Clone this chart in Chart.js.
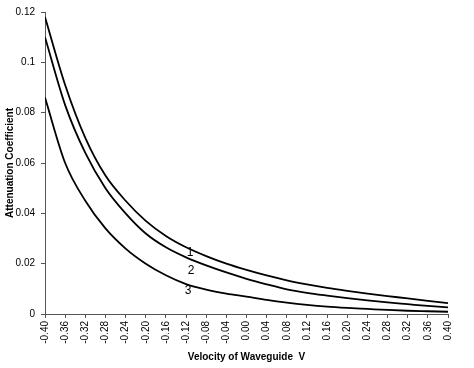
<!DOCTYPE html>
<html>
<head>
<meta charset="utf-8">
<script src="https://cdn.jsdelivr.net/npm/chart.js@4"></script>
<style>
  html, body { margin: 0; padding: 0; background: #fff; }
  #wrap { width: 474px; height: 368px; }
</style>
</head>
<body>
<div id="wrap"><canvas id="attChart" width="474" height="368"></canvas></div>
<script>
// velocity of waveguide V (x axis)
var velocity = [-0.40, -0.36, -0.32, -0.28, -0.24, -0.20, -0.16, -0.12, -0.08, -0.04,
                0.00, 0.04, 0.08, 0.12, 0.16, 0.20, 0.24, 0.28, 0.32, 0.36, 0.40];

// attenuation coefficient, curves 1..3
var curve1 = [0.118, 0.091, 0.070, 0.055, 0.045, 0.037, 0.031, 0.0265, 0.0230, 0.0200,
              0.0175, 0.0153, 0.0134, 0.0118, 0.0104, 0.0092, 0.0081, 0.0071, 0.0062, 0.0052, 0.0043];
var curve2 = [0.110, 0.083, 0.064, 0.050, 0.040, 0.032, 0.0265, 0.0225, 0.0193, 0.0165,
              0.0140, 0.0118, 0.0098, 0.0084, 0.0073, 0.0063, 0.0054, 0.0046, 0.0039, 0.0032, 0.0026];
var curve3 = [0.086, 0.060, 0.045, 0.034, 0.026, 0.0200, 0.0154, 0.0119, 0.0097, 0.0081,
              0.0069, 0.0056, 0.0045, 0.0036, 0.0029, 0.0024, 0.0020, 0.0016, 0.0013, 0.0011, 0.0009];

// curve numbers written next to the lines
var curveNames = ["1", "2", "3"];
var nameV = [-0.112, -0.110, -0.116];
var nameAtt = [0.0245, 0.0174, 0.0091];

function pts(ys) {
  return velocity.map(function (v, i) { return { x: v, y: ys[i] }; });
}

var lineStyle = {
  borderColor: "#000",
  borderWidth: 1.8,
  pointRadius: 0,
  fill: false,
  cubicInterpolationMode: "monotone"
};

var curveLabels = {
  id: "curveLabels",
  afterDatasetsDraw: function (chart) {
    var ctx = chart.ctx, xs = chart.scales.x, ys = chart.scales.y;
    ctx.save();
    ctx.fillStyle = "#000";
    ctx.font = "12px 'Liberation Sans', Arial, sans-serif";
    ctx.textAlign = "center";
    ctx.textBaseline = "middle";
    for (var i = 0; i < curveNames.length; i++) {
      ctx.fillText(curveNames[i], xs.getPixelForValue(nameV[i]), ys.getPixelForValue(nameAtt[i]));
    }
    ctx.restore();
  }
};

Chart.defaults.font.family = "'Liberation Sans', Arial, sans-serif";
Chart.defaults.color = "#000";

new Chart(document.getElementById("attChart"), {
  type: "line",
  data: {
    datasets: [
      Object.assign({ label: "1", data: pts(curve1) }, lineStyle),
      Object.assign({ label: "2", data: pts(curve2) }, lineStyle),
      Object.assign({ label: "3", data: pts(curve3) }, lineStyle)
    ]
  },
  options: {
    responsive: false,
    animation: false,
    layout: { padding: { top: 10, right: 26, bottom: 0, left: 0 } },
    plugins: { legend: { display: false }, tooltip: { enabled: false } },
    scales: {
      x: {
        type: "linear",
        min: -0.4,
        max: 0.4,
        afterFit: function (s) { s.height = 54; },
        afterBuildTicks: function (s) {
          s.ticks = velocity.map(function (v) { return { value: v }; });
        },
        ticks: {
          autoSkip: false,
          minRotation: 90,
          maxRotation: 90,
          padding: 3,
          font: { size: 10 },
          callback: function (v) { return Number(v).toFixed(2); }
        },
        grid: { drawOnChartArea: false, drawTicks: true, tickLength: 4, color: "#555" },
        border: { color: "#555", width: 1 },
        title: {
          display: true,
          text: "Velocity of Waveguide  V",
          font: { size: 10, weight: "bold" },
          padding: { top: 0, bottom: 5 }
        }
      },
      y: {
        min: 0,
        max: 0.12,
        afterFit: function (s) { s.width = 45; },
        ticks: {
          stepSize: 0.02,
          padding: 6,
          font: { size: 10 },
          callback: function (v) { return String(Number(Number(v).toFixed(2))); }
        },
        grid: { drawOnChartArea: false, drawTicks: true, tickLength: 4, color: "#555" },
        border: { color: "#555", width: 1 },
        title: {
          display: true,
          text: "Attenuation Coefficient",
          font: { size: 10, weight: "bold" },
          padding: { top: 4, bottom: 0 }
        }
      }
    }
  },
  plugins: [curveLabels]
});
</script>
</body>
</html>
